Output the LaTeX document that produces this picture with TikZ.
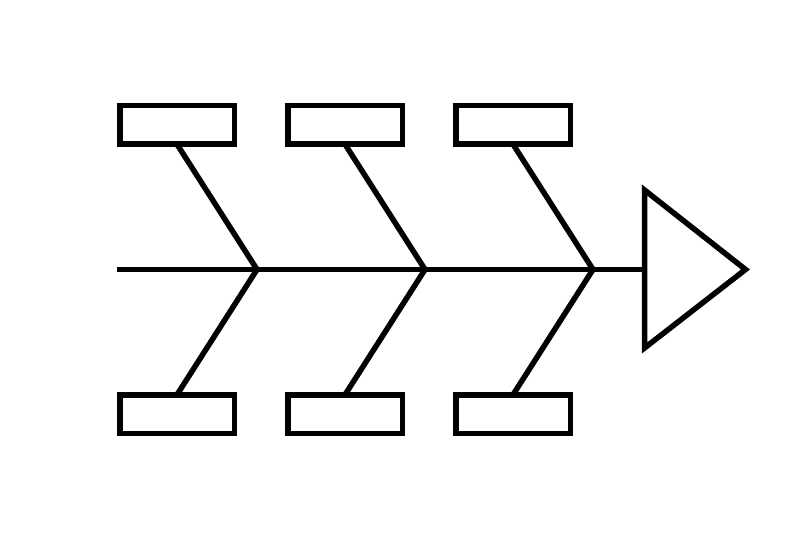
\documentclass[tikz,border=0pt]{standalone}
\begin{document}
\begin{tikzpicture}[x=1pt,y=-1pt,
  boxnode/.style={draw=black,line width=5.5pt,fill=white,minimum width=114.5pt,minimum height=38.5pt,inner sep=0pt,outer sep=0pt},
  bone/.style={draw=black,line width=5.5pt},
  headtri/.style={draw=black,line width=5.5pt,line join=miter,fill=white}]
\useasboundingbox (0,0) rectangle (800,534);
% junctions
\coordinate (start) at (117,269.5);
\coordinate (j1) at (257,269.5);
\coordinate (j2) at (425,269.5);
\coordinate (j3) at (593,269.5);
% head triangle
\coordinate (hA) at (644.5,190);
\coordinate (hB) at (644.5,348);
\coordinate (hT) at (745.5,269.5);
\coordinate (hL) at (644.5,269.5);
% boxes
\node[boxnode] (t1) at (177,125) {};
\node[boxnode] (t2) at (345,125) {};
\node[boxnode] (t3) at (513,125) {};
\node[boxnode] (b1) at (177,414) {};
\node[boxnode] (b2) at (345,414) {};
\node[boxnode] (b3) at (513,414) {};
% spine
\draw[bone] (start) -- (hL);
% bones
\draw[bone,line join=miter] (t1.south) -- (j1) -- (b1.north);
\draw[bone,line join=miter] (t2.south) -- (j2) -- (b2.north);
\draw[bone,line join=miter] (t3.south) -- (j3) -- (b3.north);
% head
\draw[headtri] (hA) -- (hT) -- (hB) -- cycle;
\end{tikzpicture}
\end{document}
